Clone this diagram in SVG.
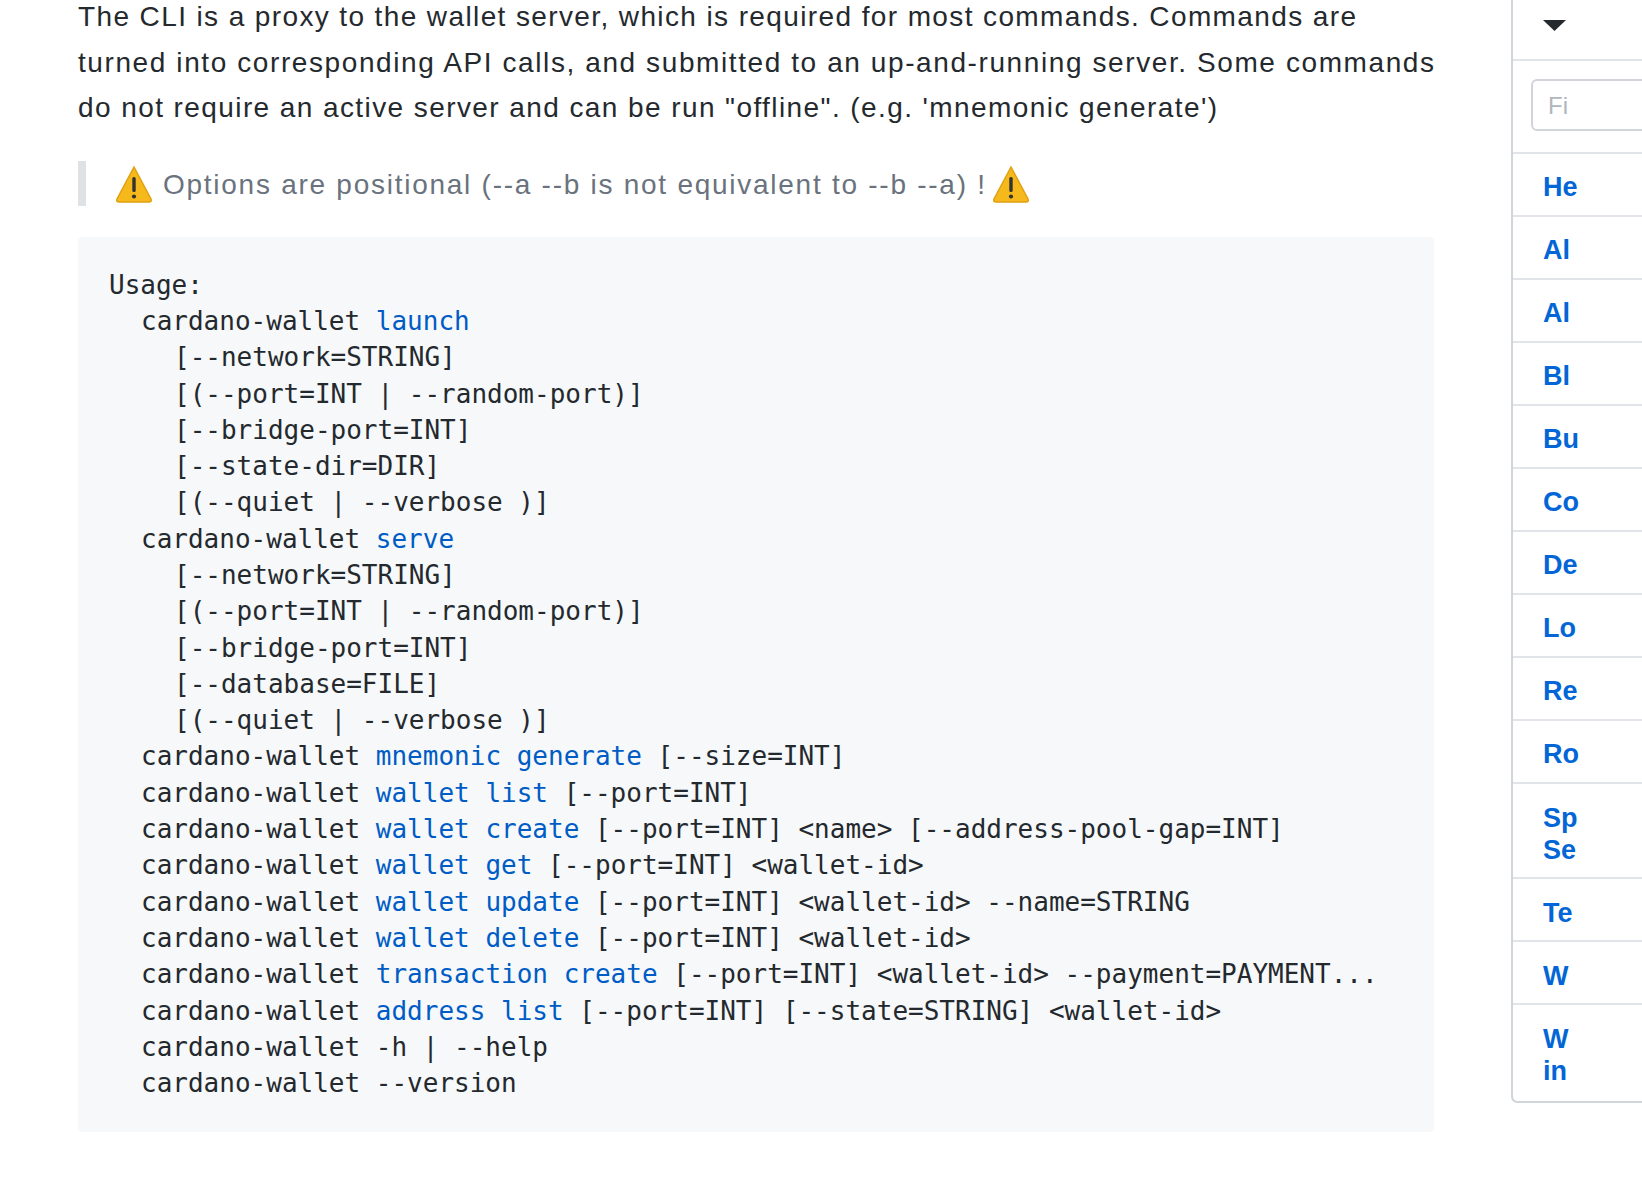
<svg xmlns="http://www.w3.org/2000/svg" width="1642" height="1188" viewBox="0 0 1642 1188">
<style>
.p{font-family:"Liberation Sans",Arial,sans-serif;font-size:28px;fill:#24292e}
.q{font-family:"Liberation Sans",Arial,sans-serif;font-size:28px;fill:#6a737d}
.c{font-family:"DejaVu Sans Mono",monospace;font-size:26px;fill:#24292e;white-space:pre}
.b{fill:#005cc5}
.s{font-family:"Liberation Sans",Arial,sans-serif;font-size:27px;font-weight:bold;fill:#0366d6}
.sep{stroke:#e1e4e8;stroke-width:2}
</style>
<defs>
<g id="warn">
<path d="M18,2 L35,34 Q36,37 33,37 L3,37 Q0,37 1,34 Z" fill="#f5b91c" stroke="#e0a010" stroke-width="1.5"/>
<rect x="16.3" y="12" width="3.4" height="15" rx="1.5" fill="#333"/>
<circle cx="18" cy="31.5" r="2.1" fill="#333"/>
</g>
</defs>
<rect width="1642" height="1188" fill="#fff"/>
<g id="para">
<text class="p" x="78" y="26" textLength="1278">The CLI is a proxy to the wallet server, which is required for most commands. Commands are</text>
<text class="p" x="78" y="72" textLength="1356">turned into corresponding API calls, and submitted to an up-and-running server. Some commands</text>
<text class="p" x="78" y="117" textLength="1139">do not require an active server and can be run "offline". (e.g. 'mnemonic generate')</text>
</g>
<g id="note">
<rect x="78" y="161" width="8" height="45" fill="#dfe2e5"/>
<use href="#warn" x="116" y="165"/>
<text class="q" x="163" y="194" textLength="822">Options are positional (--a --b is not equivalent to --b --a) !</text>
<use href="#warn" x="993" y="165"/>
</g>
<g id="code">
<rect x="78" y="237" width="1356" height="895" rx="4" fill="#f6f8fa"/>
<text class="c" x="109" y="294">Usage:</text>
<text class="c" x="141" y="330">cardano-wallet <tspan class="b">launch</tspan></text>
<text class="c" x="174" y="366">[--network=STRING]</text>
<text class="c" x="174" y="403">[(--port=INT | --random-port)]</text>
<text class="c" x="174" y="439">[--bridge-port=INT]</text>
<text class="c" x="174" y="475">[--state-dir=DIR]</text>
<text class="c" x="174" y="511">[(--quiet | --verbose )]</text>
<text class="c" x="141" y="548">cardano-wallet <tspan class="b">serve</tspan></text>
<text class="c" x="174" y="584">[--network=STRING]</text>
<text class="c" x="174" y="620">[(--port=INT | --random-port)]</text>
<text class="c" x="174" y="657">[--bridge-port=INT]</text>
<text class="c" x="174" y="693">[--database=FILE]</text>
<text class="c" x="174" y="729">[(--quiet | --verbose )]</text>
<text class="c" x="141" y="765">cardano-wallet <tspan class="b">mnemonic generate</tspan> [--size=INT]</text>
<text class="c" x="141" y="802">cardano-wallet <tspan class="b">wallet list</tspan> [--port=INT]</text>
<text class="c" x="141" y="838">cardano-wallet <tspan class="b">wallet create</tspan> [--port=INT] &lt;name&gt; [--address-pool-gap=INT]</text>
<text class="c" x="141" y="874">cardano-wallet <tspan class="b">wallet get</tspan> [--port=INT] &lt;wallet-id&gt;</text>
<text class="c" x="141" y="911">cardano-wallet <tspan class="b">wallet update</tspan> [--port=INT] &lt;wallet-id&gt; --name=STRING</text>
<text class="c" x="141" y="947">cardano-wallet <tspan class="b">wallet delete</tspan> [--port=INT] &lt;wallet-id&gt;</text>
<text class="c" x="141" y="983">cardano-wallet <tspan class="b">transaction create</tspan> [--port=INT] &lt;wallet-id&gt; --payment=PAYMENT...</text>
<text class="c" x="141" y="1020">cardano-wallet <tspan class="b">address list</tspan> [--port=INT] [--state=STRING] &lt;wallet-id&gt;</text>
<text class="c" x="141" y="1056">cardano-wallet -h | --help</text>
<text class="c" x="141" y="1092">cardano-wallet --version</text>
</g>
<g id="sidebar">
<path d="M1512,0 L1512,1096 Q1512,1102 1518,1102 L1642,1102" fill="#fff" stroke="#d1d5da" stroke-width="2"/>
<path d="M1543,20 L1566,20 L1554.5,31 Z" fill="#24292e"/>
<line class="sep" x1="1513" y1="60" x2="1642" y2="60"/>
<rect x="1532" y="80" width="130" height="50" rx="5" fill="#fff" stroke="#d1d5da" stroke-width="2"/>
<text x="1548" y="114" font-family="Liberation Sans,Arial,sans-serif" font-size="24" fill="#b0b6bd">Fi</text>
<g>
<line class="sep" x1="1513" y1="153" x2="1642" y2="153"/>
<line class="sep" x1="1513" y1="216" x2="1642" y2="216"/>
<line class="sep" x1="1513" y1="279" x2="1642" y2="279"/>
<line class="sep" x1="1513" y1="342" x2="1642" y2="342"/>
<line class="sep" x1="1513" y1="405" x2="1642" y2="405"/>
<line class="sep" x1="1513" y1="468" x2="1642" y2="468"/>
<line class="sep" x1="1513" y1="531" x2="1642" y2="531"/>
<line class="sep" x1="1513" y1="594" x2="1642" y2="594"/>
<line class="sep" x1="1513" y1="657" x2="1642" y2="657"/>
<line class="sep" x1="1513" y1="720" x2="1642" y2="720"/>
<line class="sep" x1="1513" y1="783" x2="1642" y2="783"/>
<line class="sep" x1="1513" y1="878" x2="1642" y2="878"/>
<line class="sep" x1="1513" y1="941" x2="1642" y2="941"/>
<line class="sep" x1="1513" y1="1004" x2="1642" y2="1004"/>
</g>
<text class="s" x="1543" y="196">He</text>
<text class="s" x="1543" y="259">Al</text>
<text class="s" x="1543" y="322">Al</text>
<text class="s" x="1543" y="385">Bl</text>
<text class="s" x="1543" y="448">Bu</text>
<text class="s" x="1543" y="511">Co</text>
<text class="s" x="1543" y="574">De</text>
<text class="s" x="1543" y="637">Lo</text>
<text class="s" x="1543" y="700">Re</text>
<text class="s" x="1543" y="763">Ro</text>
<text class="s" x="1543" y="827">Sp</text>
<text class="s" x="1543" y="859">Se</text>
<text class="s" x="1543" y="922">Te</text>
<text class="s" x="1543" y="985">W</text>
<text class="s" x="1543" y="1048">W</text>
<text class="s" x="1543" y="1080">in</text>
</g>
</svg>
